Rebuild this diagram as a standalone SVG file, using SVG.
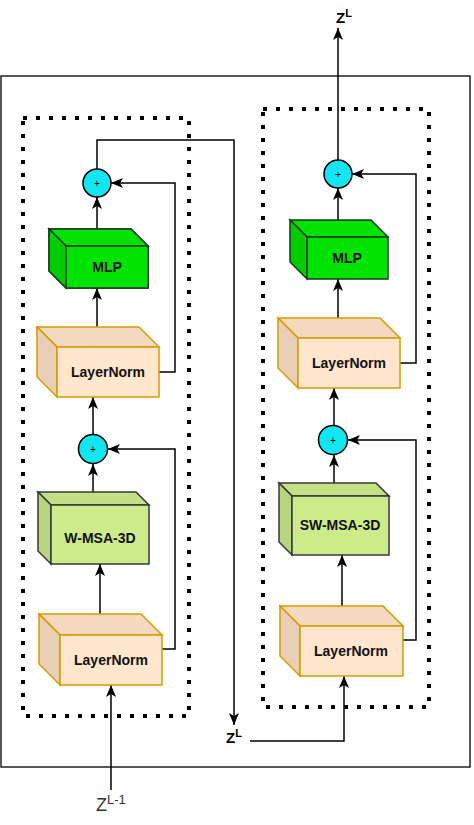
<svg xmlns="http://www.w3.org/2000/svg" width="474" height="825" viewBox="0 0 474 825">
<defs>
<marker id="arr" viewBox="0 0 12 10" markerWidth="12" markerHeight="10" refX="12" refY="5" orient="auto" markerUnits="userSpaceOnUse">
<path d="M0,0 L12,5 L0,10 L3,5 Z" fill="#000"/>
</marker>
<style>
.conn{fill:none;stroke:#000;stroke-width:1.5}
.dot{fill:none;stroke:#000;stroke-width:4;stroke-dasharray:4 9}
.lbl{font-family:"Liberation Sans",Arial,sans-serif;font-weight:bold;font-size:14px;text-anchor:middle;fill:#111}
.mlp .f{fill:#00e300;stroke:#1a3a1a;stroke-width:1.5}
.mlp .s{fill:#00cc00;stroke:#1a3a1a;stroke-width:1.5}
.ln .f{fill:#ffe6cc;stroke:#d79b00;stroke-width:1.5}
.ln .t{fill:#f2d9bf;stroke:#d79b00;stroke-width:1.5}
.ln .s{fill:#e8cfb5;stroke:#d79b00;stroke-width:1.5}
.msa .f{fill:#cdeb8b;stroke:#36393d;stroke-width:1.5}
.msa .t{fill:#c3e084;stroke:#36393d;stroke-width:1.5}
.msa .s{fill:#b9d57d;stroke:#36393d;stroke-width:1.5}
.add circle{fill:#12e6f0;stroke:#000;stroke-width:1.5}
.add text{font-family:"Liberation Sans",Arial,sans-serif;font-size:10px;text-anchor:middle;fill:#000}
.z{font-family:"Liberation Sans",Arial,sans-serif;font-weight:bold;fill:#000}
.zr{font-family:"Liberation Sans",Arial,sans-serif;fill:#333}
</style>
</defs>
<rect x="0" y="0" width="474" height="825" fill="#fff"/>
<g id="outer"><rect x="1" y="76" width="469" height="691" fill="none" stroke="#222" stroke-width="1.5"/></g>
<g id="block-left"><rect class="dot" x="23" y="118" width="166" height="598"/></g>
<g id="block-right"><rect class="dot" x="263" y="109" width="166" height="598"/></g>

<g id="connectors">
<path class="conn" d="M111,790 L111,685" marker-end="url(#arr)"/>
<path class="conn" d="M100,614 L100,564" marker-end="url(#arr)"/>
<path class="conn" d="M93,492 L93,464" marker-end="url(#arr)"/>
<path class="conn" d="M162,649 L175,649 L175,449 L108,449" marker-end="url(#arr)"/>
<path class="conn" d="M93,434 L93,397" marker-end="url(#arr)"/>
<path class="conn" d="M97,327 L97,288" marker-end="url(#arr)"/>
<path class="conn" d="M97,229 L97,197" marker-end="url(#arr)"/>
<path class="conn" d="M159,372 L175,372 L175,183 L111,183" marker-end="url(#arr)"/>
<path class="conn" d="M97,169 L97,140 L234,140 L234,725" marker-end="url(#arr)"/>
<path class="conn" d="M250,741 L344,741 L344,676" marker-end="url(#arr)"/>
<path class="conn" d="M342,606 L342,555" marker-end="url(#arr)"/>
<path class="conn" d="M334,483 L334,455" marker-end="url(#arr)"/>
<path class="conn" d="M403,640 L416,640 L416,440 L348,440" marker-end="url(#arr)"/>
<path class="conn" d="M334,425 L334,388" marker-end="url(#arr)"/>
<path class="conn" d="M338,318 L338,279" marker-end="url(#arr)"/>
<path class="conn" d="M338,220 L338,188" marker-end="url(#arr)"/>
<path class="conn" d="M400,363 L416,363 L416,174 L352,174" marker-end="url(#arr)"/>
<path class="conn" d="M338,160 L338,28" marker-end="url(#arr)"/>
</g>

<g id="add-left-top" class="add"><circle cx="97" cy="183" r="14"/><text x="97" y="187">+</text></g>
<g id="add-left-mid" class="add"><circle cx="93" cy="449" r="14.5"/><text x="93" y="453">+</text></g>
<g id="add-right-top" class="add"><circle cx="338" cy="174" r="14"/><text x="338" y="178">+</text></g>
<g id="add-right-mid" class="add"><circle cx="333" cy="440" r="14.5"/><text x="333" y="444">+</text></g>

<g id="mlp-left" class="mlp">
<polygon class="f" points="49,229 131,229 148,246 148,288 66,288 49,271"/>
<polygon class="f" points="49,229 131,229 148,246 66,246"/>
<polygon class="s" points="49,229 66,246 66,288 49,271"/>
<rect class="f" x="66" y="246" width="82" height="42"/>
<text class="lbl" x="107" y="272">MLP</text>
</g>
<g id="ln-left-top" class="ln">
<polygon class="t" points="37,327 139,327 159,347 57,347"/>
<polygon class="s" points="37,327 57,347 57,397 37,377"/>
<rect class="f" x="57" y="347" width="102" height="50"/>
<text class="lbl" x="108" y="377">LayerNorm</text>
</g>
<g id="wmsa" class="msa">
<polygon class="t" points="38,492 136,492 149,505 51,505"/>
<polygon class="s" points="38,492 51,505 51,564 38,551"/>
<rect class="f" x="51" y="505" width="98" height="59"/>
<text class="lbl" x="100" y="543">W-MSA-3D</text>
</g>
<g id="ln-left-bottom" class="ln">
<polygon class="t" points="39,614 141,614 162,635 60,635"/>
<polygon class="s" points="39,614 60,635 60,685 39,664"/>
<rect class="f" x="60" y="635" width="102" height="50"/>
<text class="lbl" x="111" y="665">LayerNorm</text>
</g>

<g id="mlp-right" class="mlp">
<polygon class="f" points="290,220 371,220 388,237 307,237"/>
<polygon class="s" points="290,220 307,237 307,279 290,262"/>
<rect class="f" x="307" y="237" width="81" height="42"/>
<text class="lbl" x="347" y="263">MLP</text>
</g>
<g id="ln-right-top" class="ln">
<polygon class="t" points="278,318 380,318 400,338 298,338"/>
<polygon class="s" points="278,318 298,338 298,388 278,368"/>
<rect class="f" x="298" y="338" width="102" height="50"/>
<text class="lbl" x="349" y="368">LayerNorm</text>
</g>
<g id="swmsa" class="msa">
<polygon class="t" points="279,483 376,483 389,496 292,496"/>
<polygon class="s" points="279,483 292,496 292,555 279,542"/>
<rect class="f" x="292" y="496" width="97" height="59"/>
<text class="lbl" x="340" y="530">SW-MSA-3D</text>
</g>
<g id="ln-right-bottom" class="ln">
<polygon class="t" points="280,606 383,606 403,626 300,626"/>
<polygon class="s" points="280,606 300,626 300,676 280,656"/>
<rect class="f" x="300" y="626" width="103" height="50"/>
<text class="lbl" x="351" y="656">LayerNorm</text>
</g>

<g id="label-zl-top"><text class="z" x="336" y="23" font-size="15">Z<tspan font-size="11" dy="-6">L</tspan></text></g>
<g id="label-zl-mid"><text class="z" x="226" y="743" font-size="15">Z<tspan font-size="11" dy="-6">L</tspan></text></g>
<g id="label-zl1"><text class="zr" x="96" y="811" font-size="18">Z<tspan font-size="13" dy="-7">L-1</tspan></text></g>
</svg>
